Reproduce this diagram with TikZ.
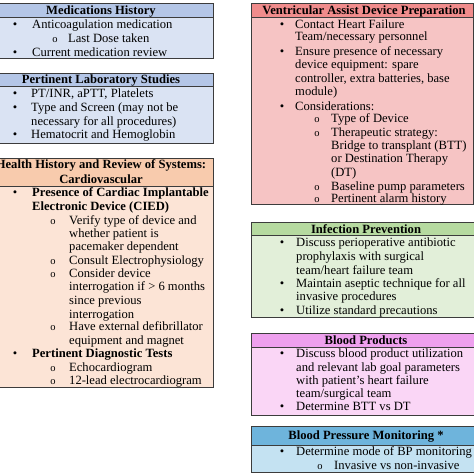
\documentclass[tikz,border=0pt]{standalone}
\usepackage{fontspec}
\setmainfont{Liberation Serif}
\usepackage{tikz}
\definecolor{medhead}{RGB}{180,198,231}
\definecolor{medbody}{RGB}{218,227,243}
\definecolor{hhhead}{RGB}{248,203,173}
\definecolor{hhbody}{RGB}{252,228,214}
\definecolor{vadhead}{RGB}{240,140,140}
\definecolor{vadbody}{RGB}{246,196,196}
\definecolor{infhead}{RGB}{182,218,160}
\definecolor{infbody}{RGB}{226,239,217}
\definecolor{bldhead}{RGB}{238,160,238}
\definecolor{bldbody}{RGB}{250,214,246}
\definecolor{bphead}{RGB}{110,180,220}
\definecolor{bpbody}{RGB}{196,226,242}
\definecolor{edge}{RGB}{60,60,60}
\tikzset{
 box/.style={draw=edge,line width=0.9pt},
 hd/.style={inner sep=0pt,font=\fontsize{12.6}{13.4}\selectfont\bfseries},
 tx/.style={anchor=base west,inner sep=0pt,font=\fontsize{12.6}{13.4}\selectfont},
 tb/.style={tx,font=\fontsize{12.6}{13.4}\selectfont\bfseries},
 bu/.style={anchor=base,inner sep=0pt,font=\fontsize{12.6}{13.4}\selectfont},
 sb/.style={anchor=base,inner sep=0pt,font=\fontsize{10.5}{13.4}\selectfont}}
\begin{document}
\begin{tikzpicture}[x=1pt,y=-1pt]
 \useasboundingbox (0,0) rectangle (474,474);
 \begin{scope}
 \clip (0,0) rectangle (474,474);
 % left column
 \draw[box,fill=medhead] (-8,3) rectangle (213,17);
 \draw[box,fill=medbody] (-8,17) rectangle (213,58);
 \draw[box,fill=medhead] (-8,73) rectangle (213,86);
 \draw[box,fill=medbody] (-8,86) rectangle (213,143);
 \draw[box,fill=hhhead] (-8,158) rectangle (213,186);
 \draw[box,fill=hhbody] (-8,186) rectangle (213,387);
 % right column
 \draw[box,fill=vadhead] (251,3) rectangle (473,17);
 \draw[box,fill=vadbody] (251,17) rectangle (473,204);
 \draw[box,fill=infhead] (251,222) rectangle (480,235);
 \draw[box,fill=infbody] (251,235) rectangle (480,317);
 \draw[box,fill=bldhead] (251,333) rectangle (480,347);
 \draw[box,fill=bldbody] (251,347) rectangle (480,415);
 \draw[box,fill=bphead] (251,426) rectangle (480,445);
 \draw[box,fill=bpbody] (251,445) rectangle (480,472);

 % Medications History
 \node[hd] (medT) at (101,11) {Medications History};
 \node[bu] (medB1) at (15,28.5) {•};
 \node[tx] (med1) at (32,28.5) {Anticoagulation medication};
 \node[sb] (medS1) at (55,42.5) {o};
 \node[tx] (med2) at (68,42.5) {Last Dose taken};
 \node[bu] (medB2) at (15,56.5) {•};
 \node[tx] (med3) at (32,56.5) {Current medication review};

 % Pertinent Laboratory Studies
 \node[hd] (labT) at (101,80) {Pertinent Laboratory Studies};
 \node[bu] (labB1) at (15,97.5) {•};
 \node[tx] (lab1) at (31,97.5) {PT/INR, aPTT, Platelets};
 \node[bu] (labB2) at (15,111.5) {•};
 \node[tx] (lab2) at (31,111.5) {Type and Screen (may not be};
 \node[tx] (lab3) at (31,125.5) {necessary for all procedures)};
 \node[bu] (labB3) at (15,138.5) {•};
 \node[tx] (lab4) at (31,138.5) {Hematocrit and Hemoglobin};

 % Health History and Review of Systems
 \node[hd] (hhT1) at (101,165) {Health History and Review of Systems:};
 \node[hd] (hhT2) at (101,179) {Cardiovascular};
 \node[bu] (hhB1) at (15,196.5) {•};
 \node[tb] (hh1) at (32,196.5) {Presence of Cardiac Implantable};
 \node[tb] (hh2) at (32,210.5) {Electronic Device (CIED)};
 \node[sb] (hhS1) at (53,224.5) {o};
 \node[tx] (hh3) at (69,224.5) {Verify type of device and};
 \node[tx] (hh4) at (69,237.5) {whether patient is};
 \node[tx] (hh5) at (69,250.5) {pacemaker dependent};
 \node[sb] (hhS2) at (53,264.5) {o};
 \node[tx] (hh6) at (69,264.5) {Consult Electrophysiology};
 \node[sb] (hhS3) at (53,277.5) {o};
 \node[tx] (hh7) at (69,277.5) {Consider device};
 \node[tx] (hh8) at (69,290.5) {interrogation if > 6 months};
 \node[tx] (hh9) at (69,304.5) {since previous};
 \node[tx] (hh10) at (69,318) {interrogation};
 \node[sb] (hhS4) at (53,330.5) {o};
 \node[tx] (hh11) at (69,330.5) {Have external defibrillator};
 \node[tx] (hh12) at (69,344.5) {equipment and magnet};
 \node[bu] (hhB2) at (15,357.5) {•};
 \node[tb] (hh13) at (32,357.5) {Pertinent Diagnostic Tests};
 \node[sb] (hhS5) at (53,371.5) {o};
 \node[tx] (hh14) at (69,371.5) {Echocardiogram};
 \node[sb] (hhS6) at (53,384.5) {o};
 \node[tx] (hh15) at (69,384.5) {12-lead electrocardiogram};

 % Ventricular Assist Device Preparation
 \node[hd] (vadT) at (364,11) {Ventricular Assist Device Preparation};
 \node[bu] (vadB1) at (282,28.5) {•};
 \node[tx] (vad1) at (295,28.5) {Contact Heart Failure};
 \node[tx] (vad2) at (295,40.5) {Team/necessary personnel};
 \node[bu] (vadB2) at (282,55.5) {•};
 \node[tx] (vad3) at (295,55.5) {Ensure presence of necessary};
 \node[tx] (vad4) at (295,68.5) {device equipment: spare};
 \node[tx] (vad5) at (295,82.5) {controller, extra batteries, base};
 \node[tx] (vad6) at (295,95.5) {module)};
 \node[bu] (vadB3) at (282,110.5) {•};
 \node[tx] (vad7) at (295,110.5) {Considerations:};
 \node[sb] (vadS1) at (317,122.5) {o};
 \node[tx] (vad8) at (331,122.5) {Type of Device};
 \node[sb] (vadS2) at (317,136.5) {o};
 \node[tx] (vad9) at (331,136.5) {Therapeutic strategy:};
 \node[tx] (vad10) at (331,149.5) {Bridge to transplant (BTT)};
 \node[tx] (vad11) at (331,162.5) {or Destination Therapy};
 \node[tx] (vad12) at (331,176.5) {(DT)};
 \node[sb] (vadS3) at (317,190.5) {o};
 \node[tx] (vad13) at (331,190.5) {Baseline pump parameters};
 \node[sb] (vadS4) at (317,202.5) {o};
 \node[tx] (vad14) at (331,202.5) {Pertinent alarm history};

 % Infection Prevention
 \node[hd] (infT) at (366,229) {Infection Prevention};
 \node[bu] (infB1) at (282,246.5) {•};
 \node[tx] (inf1) at (296,246.5) {Discuss perioperative antibiotic};
 \node[tx] (inf2) at (296,260.5) {prophylaxis with surgical};
 \node[tx] (inf3) at (296,274.5) {team/heart failure team};
 \node[bu] (infB2) at (282,287.5) {•};
 \node[tx] (inf4) at (296,287.5) {Maintain aseptic technique for all};
 \node[tx] (inf5) at (296,300.5) {invasive procedures};
 \node[bu] (infB3) at (282,314.5) {•};
 \node[tx] (inf6) at (296,314.5) {Utilize standard precautions};

 % Blood Products
 \node[hd] (bldT) at (366,340) {Blood Products};
 \node[bu] (bldB1) at (282,357.5) {•};
 \node[tx] (bld1) at (296,357.5) {Discuss blood product utilization};
 \node[tx] (bld2) at (296,371.5) {and relevant lab goal parameters};
 \node[tx] (bld3) at (296,384.5) {with patient’s heart failure};
 \node[tx] (bld4) at (296,397.5) {team/surgical team};
 \node[bu] (bldB2) at (282,410.5) {•};
 \node[tx] (bld5) at (296,410.5) {Determine BTT vs DT};

 % Blood Pressure Monitoring
 \node[hd] (bpT) at (366,437) {Blood Pressure Monitoring *};
 \node[bu] (bpB1) at (282,455.5) {•};
 \node[tx] (bp1) at (296,455.5) {Determine mode of BP monitoring};
 \node[sb] (bpS1) at (320,469.5) {o};
 \node[tx] (bp2) at (334,469.5) {Invasive vs non-invasive};
 \end{scope}
\end{tikzpicture}
\end{document}
